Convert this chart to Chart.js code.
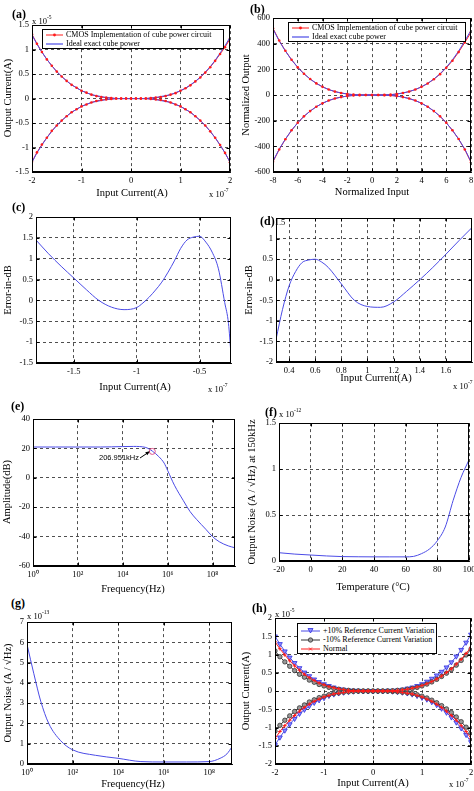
<!DOCTYPE html>
<html><head><meta charset="utf-8">
<script src="https://cdn.jsdelivr.net/npm/chart.js@4"></script>
<style>
body{margin:0;background:#fff;width:474px;height:791px;position:relative;overflow:hidden;font-family:"Liberation Serif","Times New Roman",serif;color:#000}
.t{position:absolute;white-space:nowrap;transform:translate(-50%,-50%);font-size:10.5px;line-height:1}
.v{position:absolute;white-space:nowrap;transform:translate(-50%,-50%) rotate(-90deg);font-size:10.5px;line-height:1}
.p{position:absolute;white-space:nowrap;font-weight:bold;font-size:12px;line-height:1;transform:translateY(-50%)}
.p small{font-weight:normal;font-size:8.5px}
.e{position:absolute;white-space:nowrap;font-size:8.5px;line-height:1;transform:translateY(-50%)}
.e sup{font-size:5.5px;vertical-align:5px}
.leg{position:absolute;border:1px solid #000;background:#fff;box-sizing:border-box;font-size:8px;line-height:1;padding:1px 0 0 2px}
.row{display:flex;align-items:center;height:8.5px;white-space:nowrap}
.row svg{margin-right:2px}
</style>
</head><body>
<script>
// ---------------- DATA ----------------
// (a) cube power circuit, x in 1e-7 A, y in 1e-5 A
const aX = [-2,-1.9,-1.8,-1.7,-1.6,-1.5,-1.4,-1.3,-1.2,-1.1,-1,-0.9,-0.8,-0.7,-0.6,-0.5,-0.4,-0.3,-0.2,-0.1,0,0.1,0.2,0.3,0.4,0.5,0.6,0.7,0.8,0.9,1,1.1,1.2,1.3,1.4,1.5,1.6,1.7,1.8,1.9,2];
const aIdealRise = [-1.30,-1.11,-0.95,-0.80,-0.67,-0.55,-0.45,-0.36,-0.28,-0.22,-0.16,-0.12,-0.08,-0.06,-0.04,-0.02,-0.01,0,0,0,0,0,0,0,0.01,0.02,0.04,0.06,0.08,0.12,0.16,0.21,0.28,0.35,0.44,0.54,0.65,0.78,0.93,1.08,1.25];
const aIdealFall = [1.30,1.11,0.95,0.80,0.67,0.55,0.45,0.36,0.28,0.22,0.16,0.12,0.08,0.06,0.04,0.02,0.01,0,0,0,0,0,0,0,-0.01,-0.02,-0.04,-0.06,-0.08,-0.12,-0.16,-0.22,-0.28,-0.36,-0.45,-0.55,-0.67,-0.80,-0.95,-1.11,-1.30];
const aCmosRise = [-1.29,-1.10,-0.94,-0.80,-0.66,-0.55,-0.45,-0.36,-0.28,-0.22,-0.16,-0.12,-0.08,-0.05,-0.03,-0.02,-0.01,0,0,0,0,0,0,0,0.01,0.02,0.03,0.05,0.08,0.11,0.16,0.21,0.27,0.35,0.43,0.53,0.64,0.77,0.91,1.05,1.22];
const aCmosFall = [1.31,1.12,0.95,0.80,0.67,0.55,0.45,0.36,0.28,0.22,0.16,0.12,0.08,0.05,0.03,0.02,0.01,0,0,0,0,0,0,0,-0.01,-0.02,-0.03,-0.05,-0.08,-0.12,-0.16,-0.22,-0.28,-0.36,-0.45,-0.55,-0.67,-0.80,-0.95,-1.11,-1.30];
const aXTicks = [-2,-1,0,1,2];
const aYTicks = [-1.5,-1,-0.5,0,0.5,1,1.5];

// (b) normalized
const bX = [-8,-7.5,-7,-6.5,-6,-5.5,-5,-4.5,-4,-3.5,-3,-2.5,-2,-1.5,-1,-0.5,0,0.5,1,1.5,2,2.5,3,3.5,4,4.5,5,5.5,6,6.5,7,7.5,8];
const bIdealRise = [-515,-422,-343,-275,-216,-166,-125,-91,-64,-43,-27,-16,-8,-3,-1,0,0,0,1,3,8,16,27,43,64,91,125,166,216,275,343,422,505];
const bIdealFall = [515,422,343,275,216,166,125,91,64,43,27,16,8,3,1,0,0,0,-1,-3,-8,-16,-27,-43,-64,-91,-125,-166,-216,-275,-343,-422,-520];
const bCmosRise = [-520,-425,-345,-275,-216,-166,-125,-91,-64,-43,-27,-16,-8,-3,-1,0,0,0,1,3,8,16,27,43,64,90,123,163,212,268,335,410,490];
const bCmosFall = [520,425,345,275,216,166,125,91,64,43,27,16,8,3,1,0,0,0,-1,-3,-8,-16,-27,-43,-64,-91,-125,-166,-216,-275,-343,-425,-525];
const bXTicks = [-8,-6,-4,-2,0,2,4,6,8];
const bYTicks = [-600,-400,-200,0,200,400,600];

// (c) error in dB, negative input
const cX = [-1.8,-1.7,-1.6,-1.5,-1.4,-1.3,-1.2,-1.1,-1.0,-0.95,-0.9,-0.85,-0.8,-0.75,-0.7,-0.65,-0.6,-0.55,-0.5,-0.45,-0.4,-0.35,-0.3,-0.27,-0.25];
const cErr = [1.45,1.12,0.82,0.54,0.26,0.0,-0.16,-0.22,-0.17,-0.06,0.08,0.25,0.44,0.68,0.95,1.25,1.45,1.52,1.54,1.40,1.16,0.76,-0.05,-0.55,-1.3];
const cXTicks = [-1.5,-1,-0.5];
const cYTicks = [-1.5,-1,-0.5,0,0.5,1,1.5,2];

// (d) error in dB, positive input
const dX = [0.3,0.35,0.4,0.45,0.5,0.55,0.6,0.65,0.7,0.8,0.9,1.0,1.1,1.2,1.3,1.4,1.5,1.6,1.7,1.8];
const dErr = [-1.45,-0.72,-0.15,0.2,0.42,0.48,0.5,0.43,0.3,-0.1,-0.5,-0.65,-0.67,-0.54,-0.28,0.0,0.3,0.62,0.95,1.27];
const dXTicks = [0.4,0.6,0.8,1,1.2,1.4,1.6];
const dYTicks = [-2,-1.5,-1,-0.5,0,0.5,1,1.5];
const dYLabels = ['-2','-1.5','-1','-0.5','0','0.5','1',''];  // top label printed beside "(d)"

// (e) amplitude response
const eFreq = [1,10,100,1000,1e4,3e4,1e5,2.07e5,4e5,7e5,1e6,2e6,5e6,1e7,2e7,5e7,1e8,2e8,5e8,1e9];
const eAmp = [21,21,21,21,21.3,21.4,20.8,18.2,14.5,10,5,-5,-15.5,-23,-28.5,-35,-40,-43.5,-46.3,-47.6];
const eMarkerFreq = [206951];
const eMarkerAmp = [18];
const eXTicks = [1,1e2,1e4,1e6,1e8];
const eXLabels = ['10\u2070','10\u00B2','10\u2074','10\u2076','10\u2078'];
const eYTicks = [-60,-40,-20,0,20,40];

// (f) output noise vs temperature (x1e-12)
const fTemp = [-20,-10,0,10,20,30,40,50,60,65,70,75,80,85,90,95,100];
const fNoise = [0.09,0.075,0.065,0.055,0.048,0.046,0.045,0.045,0.045,0.05,0.08,0.13,0.22,0.37,0.66,0.91,1.1];
const fXTicks = [-20,0,20,40,60,80,100];
const fYTicks = [0,0.5,1,1.5];

// (g) output noise vs frequency (x1e-13)
const gFreq = [1,2,4,9,30,100,1000,1e4,1e5,1e6,1e7,1e8,3e8,6e8,1e9];
const gNoise = [5.9,4.45,3.1,2.0,1.15,0.7,0.43,0.28,0.12,0.1,0.1,0.12,0.28,0.5,0.85];
const gXTicks = [1,1e2,1e4,1e6,1e8];
const gXLabels = ['10\u2070','10\u00B2','10\u2074','10\u2076','10\u2078'];
const gYTicks = [0,1,2,3,4,5,6,7];

// (h) reference current variation
const hX = [-2,-1.9,-1.8,-1.7,-1.6,-1.5,-1.4,-1.3,-1.2,-1.1,-1,-0.9,-0.8,-0.7,-0.6,-0.5,-0.4,-0.3,-0.2,-0.1,0,0.1,0.2,0.3,0.4,0.5,0.6,0.7,0.8,0.9,1,1.1,1.2,1.3,1.4,1.5,1.6,1.7,1.8,1.9,2];
const hPlusRise = [-1.48,-1.27,-1.08,-0.91,-0.76,-0.62,-0.51,-0.41,-0.32,-0.25,-0.19,-0.13,-0.09,-0.06,-0.04,-0.02,-0.01,0,0,0,0,0,0,0.01,0.01,0.02,0.04,0.07,0.10,0.14,0.19,0.26,0.34,0.43,0.53,0.65,0.79,0.95,1.13,1.33,1.55];
const hPlusFall = [1.50,1.29,1.09,0.92,0.77,0.63,0.51,0.41,0.32,0.25,0.19,0.14,0.10,0.06,0.04,0.02,0.01,0.01,0,0,0,0,0,0,-0.01,-0.02,-0.04,-0.06,-0.09,-0.13,-0.18,-0.23,-0.30,-0.38,-0.48,-0.59,-0.72,-0.86,-1.02,-1.20,-1.40];
const hMinusRise = [-1.10,-0.94,-0.80,-0.68,-0.56,-0.46,-0.38,-0.30,-0.24,-0.18,-0.14,-0.10,-0.07,-0.05,-0.03,-0.02,-0.01,0,0,0,0,0,0,0,0.01,0.02,0.03,0.05,0.07,0.10,0.14,0.19,0.25,0.32,0.40,0.49,0.59,0.71,0.84,0.99,1.15];
const hMinusFall = [1.10,0.94,0.80,0.68,0.56,0.46,0.38,0.30,0.24,0.18,0.14,0.10,0.07,0.05,0.03,0.02,0.01,0,0,0,0,0,0,0,-0.01,-0.02,-0.03,-0.05,-0.07,-0.10,-0.14,-0.19,-0.25,-0.32,-0.40,-0.49,-0.59,-0.71,-0.84,-0.99,-1.15];
const hNormRise = [-1.30,-1.11,-0.95,-0.80,-0.67,-0.55,-0.45,-0.36,-0.28,-0.22,-0.16,-0.12,-0.08,-0.06,-0.04,-0.02,-0.01,0,0,0,0,0,0,0,0.01,0.02,0.03,0.05,0.08,0.11,0.15,0.20,0.26,0.33,0.41,0.51,0.61,0.74,0.87,1.03,1.20];
const hNormFall = [1.35,1.16,0.99,0.83,0.69,0.57,0.46,0.37,0.29,0.22,0.17,0.12,0.09,0.06,0.04,0.02,0.01,0,0,0,0,0,0,0,-0.01,-0.02,-0.04,-0.06,-0.08,-0.12,-0.16,-0.22,-0.28,-0.36,-0.45,-0.55,-0.67,-0.80,-0.95,-1.11,-1.30];
const hXTicks = [-2,-1,0,1,2];
const hYTicks = [-2,-1.5,-1,-0.5,0,0.5,1,1.5,2];

// ---------------- RENDERING ----------------
const FONT = "'Liberation Serif','Times New Roman',serif";
Chart.defaults.font.family = FONT;
Chart.defaults.font.size = 8.5;
Chart.defaults.color = '#000';
const BLUE = '#4b4be6', RED = '#ff1a1a', DARK = '#333333';

const boxPlugin = {
  id: 'box',
  afterDraw(chart) {
    const {ctx, chartArea: a, scales} = chart;
    const l = Math.round(a.left) + 0.5, t = Math.round(a.top) + 0.5, r = Math.round(a.right) - 0.5, b = Math.round(a.bottom) - 0.5;
    ctx.save();
    ctx.setLineDash([]);
    ctx.strokeStyle = '#000';
    ctx.lineWidth = 1;
    ctx.strokeRect(l, t, r - l, b - t);
    ctx.beginPath();
    scales.x.ticks.forEach(tk => {
      const p = Math.round(scales.x.getPixelForValue(tk.value)) + 0.5;
      ctx.moveTo(p, b); ctx.lineTo(p, b - 3);
      ctx.moveTo(p, t); ctx.lineTo(p, t + 3);
    });
    scales.y.ticks.forEach(tk => {
      const p = Math.round(scales.y.getPixelForValue(tk.value)) + 0.5;
      ctx.moveTo(l, p); ctx.lineTo(l + 3, p);
      ctx.moveTo(r, p); ctx.lineTo(r - 3, p);
    });
    ctx.stroke();
    ctx.restore();
  }
};

function pts(xs, ys) { return xs.map((x, i) => ({x: x, y: ys[i]})); }

function axis(base, pos, size) {
  const o = {
    position: pos,
    type: base.type || 'linear',
    min: base.min, max: base.max,
    grid: {color: '#222', lineWidth: 0.8, drawTicks: false},
    border: {display: true, color: '#000', width: 1, dash: [3, 3]},
    ticks: {autoSkip: false, maxRotation: 0, minRotation: 0, padding: pos === 'bottom' ? 4 : 3},
    afterBuildTicks: s => { s.ticks = base.ticks.map(v => ({value: v})); },
    afterFit: s => { if (pos === 'bottom') s.height = size; else s.width = size; }
  };
  o.ticks.callback = base.labels ? (v, i) => base.labels[i] : (v, i) => String(base.ticks[i]);
  return o;
}

function makeChart(rect, xs, ys, datasets) {
  const PL = 34, PT = 8, PR = 12, PB = 18;
  const c = document.createElement('canvas');
  const w = rect.R - rect.L + PL + PR, h = rect.B - rect.T + PT + PB;
  c.width = w; c.height = h;
  c.style.cssText = 'position:absolute;left:' + (rect.L - PL) + 'px;top:' + (rect.T - PT) + 'px;width:' + w + 'px;height:' + h + 'px';
  document.body.appendChild(c);
  new Chart(c, {
    type: 'scatter',
    data: {datasets: datasets},
    options: {
      responsive: false, animation: false, devicePixelRatio: 1,
      layout: {padding: {left: 0, top: PT, right: PR, bottom: 0}},
      plugins: {legend: {display: false}, tooltip: {enabled: false}},
      scales: {x: axis(xs, 'bottom', PB), y: axis(ys, 'left', PL)}
    },
    plugins: [boxPlugin]
  });
}

function line(data, color, extra) {
  return Object.assign({data: data, showLine: true, borderColor: color, backgroundColor: color, borderWidth: 1, pointRadius: 0, tension: 0}, extra || {});
}
function smooth(data, color) {
  return line(data, color, {cubicInterpolationMode: 'monotone'});
}
function marks(data, color, r) {
  return {data: data, showLine: false, pointRadius: r, pointStyle: 'circle', pointBackgroundColor: color, pointBorderColor: color, pointBorderWidth: 0};
}

// (a)
makeChart({L: 32, T: 25, R: 230, B: 172}, {min: -2, max: 2, ticks: aXTicks}, {min: -1.5, max: 1.5, ticks: aYTicks}, [
  marks(pts(aX, aCmosRise), RED, 1.3), marks(pts(aX, aCmosFall), RED, 1.3),
  line(pts(aX, aIdealRise), BLUE), line(pts(aX, aIdealFall), BLUE),
  line(pts(aX, aCmosRise), RED), line(pts(aX, aCmosFall), RED)
]);
// (b)
makeChart({L: 273, T: 18, R: 471, B: 172}, {min: -8, max: 8, ticks: bXTicks}, {min: -600, max: 600, ticks: bYTicks}, [
  marks(pts(bX, bCmosRise), RED, 1.3), marks(pts(bX, bCmosFall), RED, 1.3),
  line(pts(bX, bIdealRise), BLUE), line(pts(bX, bIdealFall), BLUE),
  line(pts(bX, bCmosRise), RED), line(pts(bX, bCmosFall), RED)
]);
// (c)
makeChart({L: 36, T: 217, R: 231, B: 363}, {min: -1.8, max: -0.25, ticks: cXTicks}, {min: -1.5, max: 2, ticks: cYTicks}, [
  smooth(pts(cX, cErr), BLUE)
]);
// (d)
makeChart({L: 276, T: 218, R: 472, B: 362}, {min: 0.3, max: 1.8, ticks: dXTicks}, {min: -2, max: 1.5, ticks: dYTicks, labels: dYLabels}, [
  smooth(pts(dX, dErr), BLUE)
]);
// (e)
makeChart({L: 33, T: 419, R: 235, B: 566}, {type: 'logarithmic', min: 1, max: 1e9, ticks: eXTicks, labels: eXLabels}, {min: -60, max: 40, ticks: eYTicks}, [
  {data: pts(eMarkerFreq, eMarkerAmp), showLine: false, pointRadius: 3, pointStyle: 'circle', pointBorderColor: '#e0508a', pointBackgroundColor: 'rgba(0,0,0,0)', pointBorderWidth: 1},
  smooth(pts(eFreq, eAmp), BLUE)
]);
// (f)
makeChart({L: 279, T: 423, R: 469, B: 561}, {min: -20, max: 100, ticks: fXTicks}, {min: 0, max: 1.5, ticks: fYTicks}, [
  smooth(pts(fTemp, fNoise), BLUE)
]);
// (g)
makeChart({L: 27, T: 622, R: 232, B: 764}, {type: 'logarithmic', min: 1, max: 1e9, ticks: gXTicks, labels: gXLabels}, {min: 0, max: 7, ticks: gYTicks}, [
  smooth(pts(gFreq, gNoise), BLUE)
]);
// (h)
makeChart({L: 275, T: 618, R: 471, B: 764}, {min: -2, max: 2, ticks: hXTicks}, {min: -2, max: 2, ticks: hYTicks}, [
  line(pts(hX, hNormRise), RED, {pointRadius: 1.8, pointStyle: 'cross', pointBorderColor: RED, pointBorderWidth: 1}),
  line(pts(hX, hNormFall), RED, {pointRadius: 1.8, pointStyle: 'cross', pointBorderColor: RED, pointBorderWidth: 1}),
  line(pts(hX, hMinusRise), DARK, {pointRadius: 2.2, pointStyle: 'circle', pointBorderColor: '#333', pointBackgroundColor: '#999', pointBorderWidth: 0.8}),
  line(pts(hX, hMinusFall), DARK, {pointRadius: 2.2, pointStyle: 'circle', pointBorderColor: '#333', pointBackgroundColor: '#999', pointBorderWidth: 0.8}),
  line(pts(hX, hPlusRise), BLUE, {pointRadius: 2.8, pointStyle: 'triangle', rotation: 180, pointBorderColor: '#3030e0', pointBackgroundColor: '#8c8cff', pointBorderWidth: 0.8}),
  line(pts(hX, hPlusFall), BLUE, {pointRadius: 2.8, pointStyle: 'triangle', rotation: 180, pointBorderColor: '#3030e0', pointBackgroundColor: '#8c8cff', pointBorderWidth: 0.8})
]);
</script>

<!-- panel letters -->
<div class="p" style="left:12px;top:14px">(a)</div>
<div class="p" style="left:250px;top:9px">(b)</div>
<div class="p" style="left:12px;top:207px">(c)</div>
<div class="p" style="left:260px;top:221px">(d)<small>1.5</small></div>
<div class="p" style="left:11px;top:406px">(e)</div>
<div class="p" style="left:265px;top:412px">(f)</div>
<div class="p" style="left:11px;top:603px">(g)</div>
<div class="p" style="left:252px;top:608px">(h)</div>

<!-- exponent labels -->
<div class="e" style="left:32px;top:20px">x 10<sup>-5</sup></div>
<div class="e" style="left:209px;top:193px">x 10<sup>-7</sup></div>
<div class="e" style="left:208px;top:388px">x 10<sup>-7</sup></div>
<div class="e" style="left:453px;top:385px">x 10<sup>-7</sup></div>
<div class="e" style="left:279px;top:413px">x 10<sup>-12</sup></div>
<div class="e" style="left:27px;top:615px">x 10<sup>-13</sup></div>
<div class="e" style="left:275px;top:613px">x 10<sup>-5</sup></div>
<div class="e" style="left:449px;top:783px">x 10<sup>-7</sup></div>

<!-- axis titles -->
<div class="t" style="left:132px;top:193px">Input Current(A)</div>
<div class="v" style="left:8px;top:98px">Output Current(A)</div>
<div class="t" style="left:372px;top:192px">Normalized Input</div>
<div class="v" style="left:246px;top:95px">Normalized Output</div>
<div class="t" style="left:135px;top:387px">Input Current(A)</div>
<div class="v" style="left:8px;top:290px">Error-in-dB</div>
<div class="t" style="left:376px;top:378px">Input Current(A)</div>
<div class="v" style="left:249px;top:290px">Error-in-dB</div>
<div class="t" style="left:133px;top:589px">Frequency(Hz)</div>
<div class="v" style="left:7px;top:492px">Amplitude(dB)</div>
<div class="t" style="left:373px;top:587px">Temperature (°C)</div>
<div class="v" style="left:252px;top:492px">Output Noise (A / √Hz) at 150kHz</div>
<div class="t" style="left:133px;top:784px">Frequency(Hz)</div>
<div class="v" style="left:8px;top:693px">Output Noise (A / √Hz)</div>
<div class="t" style="left:373px;top:783px">Input Current(A)</div>
<div class="v" style="left:246px;top:691px">Output Current(A)</div>

<!-- legends -->
<div class="leg" style="left:42px;top:29px;width:182px;height:20px">
  <div class="row"><svg width="19" height="8"><line x1="1" y1="4" x2="18" y2="4" stroke="#ff1a1a" stroke-width="1"/><circle cx="9.5" cy="4" r="1.4" fill="#ff1a1a"/></svg><span>CMOS Implementation of cube power circuit</span></div>
  <div class="row"><svg width="19" height="8"><line x1="1" y1="4" x2="18" y2="4" stroke="#4b4be6" stroke-width="1.2"/></svg><span>Ideal exact cube power</span></div>
</div>
<div class="leg" style="left:288px;top:22px;width:178px;height:20px">
  <div class="row"><svg width="19" height="8"><line x1="1" y1="4" x2="18" y2="4" stroke="#ff1a1a" stroke-width="1"/><circle cx="9.5" cy="4" r="1.4" fill="#ff1a1a"/></svg><span>CMOS Implementation of cube power circuit</span></div>
  <div class="row"><svg width="19" height="8"><line x1="1" y1="4" x2="18" y2="4" stroke="#4b4be6" stroke-width="1.2"/></svg><span>Ideal exact cube power</span></div>
</div>
<div class="leg" style="left:297px;top:623px;width:140px;height:31px;padding-top:2px">
  <div class="row" style="height:9px"><svg width="21" height="8"><line x1="1" y1="4" x2="20" y2="4" stroke="#4b4be6" stroke-width="1"/><polygon points="8,1.5 13,1.5 10.5,6" fill="#8c8cff" stroke="#3030e0" stroke-width="0.8"/></svg><span>+10% Reference Current Variation</span></div>
  <div class="row" style="height:9px"><svg width="21" height="8"><line x1="1" y1="4" x2="20" y2="4" stroke="#333" stroke-width="1"/><circle cx="10.5" cy="4" r="2.2" fill="#999" stroke="#333" stroke-width="0.8"/></svg><span>-10% Reference Current Variation</span></div>
  <div class="row" style="height:9px"><svg width="21" height="8"><line x1="1" y1="4" x2="20" y2="4" stroke="#ff1a1a" stroke-width="1"/><path d="M9 2.5 L12 5.5 M12 2.5 L9 5.5" stroke="#ff1a1a" stroke-width="0.8"/></svg><span>Normal</span></div>
</div>

<!-- annotation in (e) -->
<div style="position:absolute;left:99px;top:457px;transform:translateY(-50%);font-family:'Liberation Sans',Arial,sans-serif;font-size:7.5px;white-space:nowrap">206.951kHz</div>
<svg style="position:absolute;left:130px;top:440px" width="30" height="25">
  <line x1="10" y1="18" x2="18.5" y2="12.3" stroke="#000" stroke-width="1"/>
  <polygon points="20,11.2 15.2,12.2 17.3,15.2" fill="#000"/>
</svg>
</body></html>
